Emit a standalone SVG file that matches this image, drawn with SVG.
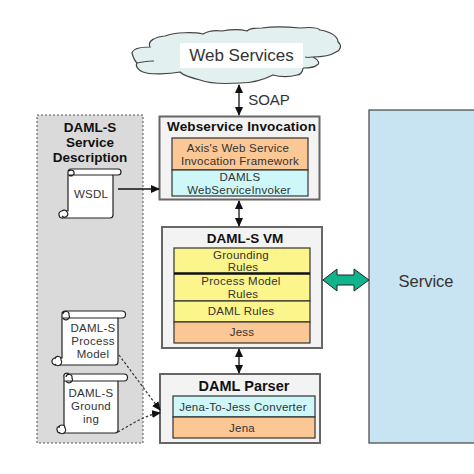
<svg xmlns="http://www.w3.org/2000/svg" width="474" height="474" viewBox="0 0 474 474">
<style>
text{font-family:"Liberation Sans",Arial,sans-serif;text-anchor:middle;fill:#333}
.b{font-weight:bold;fill:#111;font-size:13.500px}
.t{font-size:11.500px;letter-spacing:.25px}
.frame{fill:#f3f3f3;stroke:#666;stroke-width:2}
.o{fill:#fbc795;stroke:#333;stroke-width:1.2}
.c{fill:#cdf7f8;stroke:#333;stroke-width:1.2}
.y{fill:#fbf58b;stroke:#333;stroke-width:1.2}
.s{fill:#fff;stroke:#222;stroke-width:1.2}
.l{fill:none;stroke:#111;stroke-width:1.3}
.d{fill:none;stroke:#333;stroke-width:1.2;stroke-dasharray:2.5 2}
</style>
<defs>
<marker id="a" markerWidth="9" markerHeight="8" refX="8" refY="4" orient="auto-start-reverse" markerUnits="userSpaceOnUse"><path d="M0 0L9 4L0 8Z" fill="#111"/></marker>
</defs>
<rect width="474" height="474" fill="#fff"/>
<g id="cloud">
<path d="M132 53C133 49 140 47 150 47C147 41 155 37 165 36C175 32 195 32 203 34C208 31 215 30 222 31C232 29 240 29 247 31C250 28 255 28 262 28C275 26 290 27 300 28C310 27 318 28 320 30C332 32 338 37 338 42C342 45 341 50 336 52C330 56 322 57 313 57C319 60 320 64 317 65C314 68 308 68 303 68C303 72 300 75 297 75C290 77 280 77 273 75C265 79 252 83 240 83C225 84 208 83 200 80C192 78 184 76 180 72C170 74 150 75 143 72C138 70 135 66 137 63C135 61 133 57 132 53Z" fill="#e2f0f0" stroke="#444" stroke-width="1.2"/>
<path d="M137 63C142 62 148 61 154 61M305 57C308 58 310 57 313 57" fill="none" stroke="#444" stroke-width="1"/>
<rect x="180" y="43" width="123" height="25" fill="#fff"/>
<text x="241.500" y="61" font-size="17">Web Services</text>
</g>
<g id="description">
<rect x="37" y="115" width="106" height="328" fill="#dadada" stroke="#555" stroke-width="1" stroke-dasharray="2 2"/>
<text class="b" x="90" y="132">DAML-S</text>
<text class="b" x="90" y="147">Service</text>
<text class="b" x="90" y="162">Description</text>
</g>
<g id="wsdl">
<path class="s" d="M71 169H118a3 3 0 0 1 0 6H113V215a3 3 0 0 1-3 3H63a3 3 0 0 1-1-7H68V172a3 3 0 0 1 3-3Z"/>
<path class="s" d="M68 175H113M69 171a3 3 0 0 1 5 1a3 3 0 0 1-5 3M62 211a3 3 0 0 1 5 1a3 3 0 0 1-5 4"/>
<text class="t" x="91" y="198">WSDL</text>
</g>
<g id="process-model">
<path class="s" d="M65 311H122a3 3 0 0 1 0 7H118V362a3 3 0 0 1-3 3H56a3 3 0 0 1-1-7H62V314a3 3 0 0 1 3-3Z"/>
<path class="s" d="M62 318H118M63 314a3 3 0 0 1 6 1a3 3 0 0 1-6 3M55 359a3 3 0 0 1 6 1a3 3 0 0 1-6 4"/>
<text class="t" x="93" y="332">DAML-S</text>
<text class="t" x="93" y="345">Process</text>
<text class="t" x="93" y="358">Model</text>
</g>
<g id="grounding">
<path class="s" d="M69 374H124a3 3 0 0 1 0 7H118V430a3 3 0 0 1-3 3H61a3 3 0 0 1-1-7H64V377a3 3 0 0 1 5-3Z"/>
<path class="s" d="M64 381H118M66 377a3 3 0 0 1 6 1a3 3 0 0 1-6 3M59 428a3 3 0 0 1 6 0a3 3 0 0 1-6 4"/>
<text class="t" x="91" y="397">DAML-S</text>
<text class="t" x="91" y="410">Ground</text>
<text class="t" x="91" y="423">ing</text>
</g>
<g id="webservice-invocation">
<rect class="frame" x="159.500" y="116.500" width="160" height="83"/>
<text class="b" x="241.500" y="131" textLength="149">Webservice Invocation</text>
<rect class="o" x="172" y="138" width="136" height="32"/>
<rect class="c" x="172" y="170" width="136" height="26"/>
<text class="t" x="238" y="151.500">Axis's Web Service</text>
<text class="t" x="240" y="164.500">Invocation Framework</text>
<text class="t" x="240" y="180.500">DAMLS</text>
<text class="t" x="239" y="193.500">WebServiceInvoker</text>
</g>
<g id="daml-s-vm">
<rect class="frame" x="162" y="227" width="160" height="121"/>
<text class="b" x="245" y="243">DAML-S VM</text>
<rect class="y" x="174" y="248" width="136" height="25"/>
<rect class="y" x="174" y="274" width="136" height="27"/>
<rect class="y" x="174" y="301" width="136" height="21"/>
<rect class="o" x="174" y="322" width="136" height="21"/>
<path d="M174 273.500H310" stroke="#111" stroke-width="2"/>
<text class="t" x="241" y="258.500">Grounding</text>
<text class="t" x="243" y="271">Rules</text>
<text class="t" x="241" y="285">Process Model</text>
<text class="t" x="243" y="298">Rules</text>
<text class="t" x="241" y="315">DAML Rules</text>
<text class="t" x="242" y="336">Jess</text>
</g>
<g id="daml-parser">
<rect class="frame" x="160" y="374" width="160" height="69"/>
<text class="b" x="244" y="391" style="font-size:14.500px">DAML Parser</text>
<rect class="c" x="173" y="396" width="142" height="21"/>
<rect class="o" x="173" y="417" width="142" height="21"/>
<text class="t" x="243" y="411">Jena-To-Jess Converter</text>
<text class="t" x="242" y="432">Jena</text>
</g>
<g id="service">
<rect x="369" y="110" width="106" height="333" fill="#c8e3f1" stroke="#444" stroke-width="1.2"/>
<text x="426" y="287" font-size="16.500">Service</text>
</g>
<g id="connectors">
<path class="l" d="M239 85V115" marker-start="url(#a)" marker-end="url(#a)"/>
<text x="269" y="105" font-size="15" fill="#555">SOAP</text>
<path class="l" d="M118 189H159" marker-end="url(#a)"/>
<path class="l" d="M239 201V226" marker-start="url(#a)" marker-end="url(#a)"/>
<path class="l" d="M239 349V373" marker-start="url(#a)" marker-end="url(#a)"/>
<path class="d" d="M119 355L160 410" marker-end="url(#a)"/>
<path class="d" d="M118 432C130 425 145 415 160 413" marker-end="url(#a)"/>
<path d="M323 280L337 269V275H354V269L369 280L354 291V285H337V291Z" fill="#10b48c" stroke="#222" stroke-width="1"/>
</g>
</svg>
